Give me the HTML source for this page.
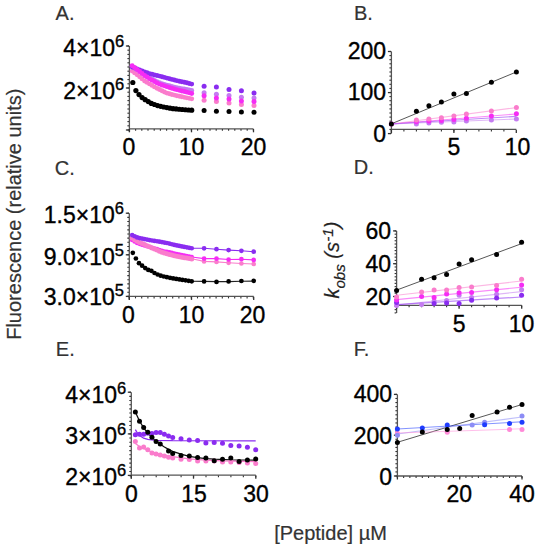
<!DOCTYPE html>
<html><head><meta charset="utf-8"><style>
html,body{margin:0;padding:0;background:#fff;width:540px;height:550px;overflow:hidden}
svg{display:block}
text{font-family:"Liberation Sans",sans-serif}
</style></head><body>
<svg width="540" height="550" viewBox="0 0 540 550">
<rect width="540" height="550" fill="#fff"/>
<text x="55.60" y="20.00" font-size="20" text-anchor="start" fill="#333" stroke="#333" stroke-width="0.2">A.</text>
<text x="354.00" y="20.00" font-size="20" text-anchor="start" fill="#333" stroke="#333" stroke-width="0.2">B.</text>
<text x="54.80" y="174.60" font-size="20" text-anchor="start" fill="#333" stroke="#333" stroke-width="0.2">C.</text>
<text x="353.70" y="174.20" font-size="20" text-anchor="start" fill="#333" stroke="#333" stroke-width="0.2">D.</text>
<text x="55.80" y="356.20" font-size="20" text-anchor="start" fill="#333" stroke="#333" stroke-width="0.2">E.</text>
<text x="353.70" y="356.20" font-size="20" text-anchor="start" fill="#333" stroke="#333" stroke-width="0.2">F.</text>
<text transform="translate(20.5,214.2) rotate(-90)" font-size="20" text-anchor="middle" fill="#333" stroke="#333" stroke-width="0.2">Fluorescence (relative units)</text>
<text x="330.5" y="539.5" font-size="20" text-anchor="middle" fill="#333" stroke="#333" stroke-width="0.2">[Peptide] µM</text>
<line x1="129.40" y1="46.00" x2="129.40" y2="131.70" stroke="#555" stroke-width="1.3"/>
<line x1="127.40" y1="46.00" x2="129.10" y2="46.00" stroke="#333" stroke-width="1.1"/>
<line x1="127.40" y1="50.20" x2="129.10" y2="50.20" stroke="#333" stroke-width="1.1"/>
<line x1="127.40" y1="54.40" x2="129.10" y2="54.40" stroke="#333" stroke-width="1.1"/>
<line x1="127.40" y1="58.60" x2="129.10" y2="58.60" stroke="#333" stroke-width="1.1"/>
<line x1="127.40" y1="62.80" x2="129.10" y2="62.80" stroke="#333" stroke-width="1.1"/>
<line x1="127.40" y1="67.00" x2="129.10" y2="67.00" stroke="#333" stroke-width="1.1"/>
<line x1="127.40" y1="71.20" x2="129.10" y2="71.20" stroke="#333" stroke-width="1.1"/>
<line x1="127.40" y1="75.40" x2="129.10" y2="75.40" stroke="#333" stroke-width="1.1"/>
<line x1="127.40" y1="79.60" x2="129.10" y2="79.60" stroke="#333" stroke-width="1.1"/>
<line x1="127.40" y1="83.80" x2="129.10" y2="83.80" stroke="#333" stroke-width="1.1"/>
<line x1="127.40" y1="88.00" x2="129.10" y2="88.00" stroke="#333" stroke-width="1.1"/>
<line x1="127.40" y1="92.20" x2="129.10" y2="92.20" stroke="#333" stroke-width="1.1"/>
<line x1="127.40" y1="96.40" x2="129.10" y2="96.40" stroke="#333" stroke-width="1.1"/>
<line x1="127.40" y1="100.60" x2="129.10" y2="100.60" stroke="#333" stroke-width="1.1"/>
<line x1="127.40" y1="104.80" x2="129.10" y2="104.80" stroke="#333" stroke-width="1.1"/>
<line x1="127.40" y1="109.00" x2="129.10" y2="109.00" stroke="#333" stroke-width="1.1"/>
<line x1="127.40" y1="113.20" x2="129.10" y2="113.20" stroke="#333" stroke-width="1.1"/>
<line x1="127.40" y1="117.40" x2="129.10" y2="117.40" stroke="#333" stroke-width="1.1"/>
<line x1="127.40" y1="121.60" x2="129.10" y2="121.60" stroke="#333" stroke-width="1.1"/>
<line x1="127.40" y1="125.80" x2="129.10" y2="125.80" stroke="#333" stroke-width="1.1"/>
<line x1="127.40" y1="130.00" x2="129.10" y2="130.00" stroke="#333" stroke-width="1.1"/>
<line x1="125.90" y1="46.00" x2="129.10" y2="46.00" stroke="#333" stroke-width="1.3"/>
<line x1="125.90" y1="88.00" x2="129.10" y2="88.00" stroke="#333" stroke-width="1.3"/>
<line x1="125.90" y1="130.00" x2="129.10" y2="130.00" stroke="#333" stroke-width="1.3"/>
<line x1="129.40" y1="128.80" x2="253.50" y2="128.80" stroke="#555" stroke-width="1.3"/>
<line x1="129.40" y1="129.10" x2="129.40" y2="130.80" stroke="#333" stroke-width="1.1"/>
<line x1="135.60" y1="129.10" x2="135.60" y2="130.80" stroke="#333" stroke-width="1.1"/>
<line x1="141.80" y1="129.10" x2="141.80" y2="130.80" stroke="#333" stroke-width="1.1"/>
<line x1="148.00" y1="129.10" x2="148.00" y2="130.80" stroke="#333" stroke-width="1.1"/>
<line x1="154.20" y1="129.10" x2="154.20" y2="130.80" stroke="#333" stroke-width="1.1"/>
<line x1="160.40" y1="129.10" x2="160.40" y2="130.80" stroke="#333" stroke-width="1.1"/>
<line x1="166.60" y1="129.10" x2="166.60" y2="130.80" stroke="#333" stroke-width="1.1"/>
<line x1="172.80" y1="129.10" x2="172.80" y2="130.80" stroke="#333" stroke-width="1.1"/>
<line x1="179.00" y1="129.10" x2="179.00" y2="130.80" stroke="#333" stroke-width="1.1"/>
<line x1="185.20" y1="129.10" x2="185.20" y2="130.80" stroke="#333" stroke-width="1.1"/>
<line x1="191.40" y1="129.10" x2="191.40" y2="130.80" stroke="#333" stroke-width="1.1"/>
<line x1="197.60" y1="129.10" x2="197.60" y2="130.80" stroke="#333" stroke-width="1.1"/>
<line x1="203.80" y1="129.10" x2="203.80" y2="130.80" stroke="#333" stroke-width="1.1"/>
<line x1="210.00" y1="129.10" x2="210.00" y2="130.80" stroke="#333" stroke-width="1.1"/>
<line x1="216.20" y1="129.10" x2="216.20" y2="130.80" stroke="#333" stroke-width="1.1"/>
<line x1="222.40" y1="129.10" x2="222.40" y2="130.80" stroke="#333" stroke-width="1.1"/>
<line x1="228.60" y1="129.10" x2="228.60" y2="130.80" stroke="#333" stroke-width="1.1"/>
<line x1="234.80" y1="129.10" x2="234.80" y2="130.80" stroke="#333" stroke-width="1.1"/>
<line x1="241.00" y1="129.10" x2="241.00" y2="130.80" stroke="#333" stroke-width="1.1"/>
<line x1="247.20" y1="129.10" x2="247.20" y2="130.80" stroke="#333" stroke-width="1.1"/>
<line x1="253.40" y1="129.10" x2="253.40" y2="130.80" stroke="#333" stroke-width="1.1"/>
<line x1="129.40" y1="129.10" x2="129.40" y2="132.30" stroke="#333" stroke-width="1.3"/>
<line x1="191.50" y1="129.10" x2="191.50" y2="132.30" stroke="#333" stroke-width="1.3"/>
<line x1="253.50" y1="129.10" x2="253.50" y2="132.30" stroke="#333" stroke-width="1.3"/>
<text x="124.30" y="56.10" font-size="23" text-anchor="end" fill="#000" stroke="#000" stroke-width="0.35">4×10<tspan font-size="16.5" dy="-9">6</tspan></text>
<text x="124.30" y="98.60" font-size="23" text-anchor="end" fill="#000" stroke="#000" stroke-width="0.35">2×10<tspan font-size="16.5" dy="-9">6</tspan></text>
<text x="129.00" y="155.10" font-size="23" text-anchor="middle" fill="#000"  stroke="#000" stroke-width="0.35">0</text>
<text x="191.50" y="155.10" font-size="23" text-anchor="middle" fill="#000"  stroke="#000" stroke-width="0.35">10</text>
<text x="253.50" y="155.10" font-size="23" text-anchor="middle" fill="#000"  stroke="#000" stroke-width="0.35">20</text>
<circle cx="132.18" cy="71.04" r="2.45" fill="#fa7ccc"/>
<circle cx="134.66" cy="72.91" r="2.45" fill="#fa7ccc"/>
<circle cx="137.14" cy="74.78" r="2.45" fill="#fa7ccc"/>
<circle cx="139.62" cy="76.82" r="2.45" fill="#fa7ccc"/>
<circle cx="142.10" cy="78.92" r="2.45" fill="#fa7ccc"/>
<circle cx="144.58" cy="80.93" r="2.45" fill="#fa7ccc"/>
<circle cx="147.06" cy="82.42" r="2.45" fill="#fa7ccc"/>
<circle cx="149.54" cy="83.90" r="2.45" fill="#fa7ccc"/>
<circle cx="152.02" cy="85.39" r="2.45" fill="#fa7ccc"/>
<circle cx="154.50" cy="86.88" r="2.45" fill="#fa7ccc"/>
<circle cx="156.98" cy="88.37" r="2.45" fill="#fa7ccc"/>
<circle cx="159.46" cy="89.55" r="2.45" fill="#fa7ccc"/>
<circle cx="161.94" cy="90.76" r="2.45" fill="#fa7ccc"/>
<circle cx="164.42" cy="91.98" r="2.45" fill="#fa7ccc"/>
<circle cx="166.90" cy="93.11" r="2.45" fill="#fa7ccc"/>
<circle cx="169.38" cy="93.80" r="2.45" fill="#fa7ccc"/>
<circle cx="171.86" cy="94.48" r="2.45" fill="#fa7ccc"/>
<circle cx="174.34" cy="95.11" r="2.45" fill="#fa7ccc"/>
<circle cx="176.82" cy="95.70" r="2.45" fill="#fa7ccc"/>
<circle cx="179.30" cy="96.28" r="2.45" fill="#fa7ccc"/>
<circle cx="181.78" cy="96.81" r="2.45" fill="#fa7ccc"/>
<circle cx="184.26" cy="97.35" r="2.45" fill="#fa7ccc"/>
<circle cx="186.74" cy="97.87" r="2.45" fill="#fa7ccc"/>
<circle cx="189.22" cy="98.35" r="2.45" fill="#fa7ccc"/>
<circle cx="191.70" cy="98.84" r="2.45" fill="#fa7ccc"/>
<circle cx="132.18" cy="66.43" r="2.45" fill="#c47cf0"/>
<circle cx="134.66" cy="67.95" r="2.45" fill="#c47cf0"/>
<circle cx="137.14" cy="69.46" r="2.45" fill="#c47cf0"/>
<circle cx="139.62" cy="71.19" r="2.45" fill="#c47cf0"/>
<circle cx="142.10" cy="72.98" r="2.45" fill="#c47cf0"/>
<circle cx="144.58" cy="74.73" r="2.45" fill="#c47cf0"/>
<circle cx="147.06" cy="76.22" r="2.45" fill="#c47cf0"/>
<circle cx="149.54" cy="77.70" r="2.45" fill="#c47cf0"/>
<circle cx="152.02" cy="79.09" r="2.45" fill="#c47cf0"/>
<circle cx="154.50" cy="80.39" r="2.45" fill="#c47cf0"/>
<circle cx="156.98" cy="81.68" r="2.45" fill="#c47cf0"/>
<circle cx="159.46" cy="82.77" r="2.45" fill="#c47cf0"/>
<circle cx="161.94" cy="83.60" r="2.45" fill="#c47cf0"/>
<circle cx="164.42" cy="84.36" r="2.45" fill="#c47cf0"/>
<circle cx="166.90" cy="85.11" r="2.45" fill="#c47cf0"/>
<circle cx="169.38" cy="85.80" r="2.45" fill="#c47cf0"/>
<circle cx="171.86" cy="86.48" r="2.45" fill="#c47cf0"/>
<circle cx="174.34" cy="87.09" r="2.45" fill="#c47cf0"/>
<circle cx="176.82" cy="87.64" r="2.45" fill="#c47cf0"/>
<circle cx="179.30" cy="88.18" r="2.45" fill="#c47cf0"/>
<circle cx="181.78" cy="88.60" r="2.45" fill="#c47cf0"/>
<circle cx="184.26" cy="89.02" r="2.45" fill="#c47cf0"/>
<circle cx="186.74" cy="89.48" r="2.45" fill="#c47cf0"/>
<circle cx="189.22" cy="90.01" r="2.45" fill="#c47cf0"/>
<circle cx="191.70" cy="90.54" r="2.45" fill="#c47cf0"/>
<circle cx="132.18" cy="67.06" r="2.45" fill="#8a2cf0"/>
<circle cx="134.66" cy="68.02" r="2.45" fill="#8a2cf0"/>
<circle cx="137.14" cy="68.98" r="2.45" fill="#8a2cf0"/>
<circle cx="139.62" cy="70.00" r="2.45" fill="#8a2cf0"/>
<circle cx="142.10" cy="71.03" r="2.45" fill="#8a2cf0"/>
<circle cx="144.58" cy="72.02" r="2.45" fill="#8a2cf0"/>
<circle cx="147.06" cy="72.82" r="2.45" fill="#8a2cf0"/>
<circle cx="149.54" cy="73.63" r="2.45" fill="#8a2cf0"/>
<circle cx="152.02" cy="74.32" r="2.45" fill="#8a2cf0"/>
<circle cx="154.50" cy="74.94" r="2.45" fill="#8a2cf0"/>
<circle cx="156.98" cy="75.55" r="2.45" fill="#8a2cf0"/>
<circle cx="159.46" cy="76.08" r="2.45" fill="#8a2cf0"/>
<circle cx="161.94" cy="76.74" r="2.45" fill="#8a2cf0"/>
<circle cx="164.42" cy="77.42" r="2.45" fill="#8a2cf0"/>
<circle cx="166.90" cy="78.10" r="2.45" fill="#8a2cf0"/>
<circle cx="169.38" cy="78.75" r="2.45" fill="#8a2cf0"/>
<circle cx="171.86" cy="79.40" r="2.45" fill="#8a2cf0"/>
<circle cx="174.34" cy="80.03" r="2.45" fill="#8a2cf0"/>
<circle cx="176.82" cy="80.66" r="2.45" fill="#8a2cf0"/>
<circle cx="179.30" cy="81.27" r="2.45" fill="#8a2cf0"/>
<circle cx="181.78" cy="81.78" r="2.45" fill="#8a2cf0"/>
<circle cx="184.26" cy="82.27" r="2.45" fill="#8a2cf0"/>
<circle cx="186.74" cy="82.82" r="2.45" fill="#8a2cf0"/>
<circle cx="189.22" cy="83.47" r="2.45" fill="#8a2cf0"/>
<circle cx="191.70" cy="84.12" r="2.45" fill="#8a2cf0"/>
<circle cx="132.18" cy="65.80" r="2.45" fill="#f52cf5"/>
<circle cx="134.66" cy="67.68" r="2.45" fill="#f52cf5"/>
<circle cx="137.14" cy="69.57" r="2.45" fill="#f52cf5"/>
<circle cx="139.62" cy="71.54" r="2.45" fill="#f52cf5"/>
<circle cx="142.10" cy="73.52" r="2.45" fill="#f52cf5"/>
<circle cx="144.58" cy="75.45" r="2.45" fill="#f52cf5"/>
<circle cx="147.06" cy="77.05" r="2.45" fill="#f52cf5"/>
<circle cx="149.54" cy="78.65" r="2.45" fill="#f52cf5"/>
<circle cx="152.02" cy="80.13" r="2.45" fill="#f52cf5"/>
<circle cx="154.50" cy="81.50" r="2.45" fill="#f52cf5"/>
<circle cx="156.98" cy="82.88" r="2.45" fill="#f52cf5"/>
<circle cx="159.46" cy="84.13" r="2.45" fill="#f52cf5"/>
<circle cx="161.94" cy="85.03" r="2.45" fill="#f52cf5"/>
<circle cx="164.42" cy="85.83" r="2.45" fill="#f52cf5"/>
<circle cx="166.90" cy="86.63" r="2.45" fill="#f52cf5"/>
<circle cx="169.38" cy="87.43" r="2.45" fill="#f52cf5"/>
<circle cx="171.86" cy="88.23" r="2.45" fill="#f52cf5"/>
<circle cx="174.34" cy="88.98" r="2.45" fill="#f52cf5"/>
<circle cx="176.82" cy="89.67" r="2.45" fill="#f52cf5"/>
<circle cx="179.30" cy="90.37" r="2.45" fill="#f52cf5"/>
<circle cx="181.78" cy="90.95" r="2.45" fill="#f52cf5"/>
<circle cx="184.26" cy="91.52" r="2.45" fill="#f52cf5"/>
<circle cx="186.74" cy="92.13" r="2.45" fill="#f52cf5"/>
<circle cx="189.22" cy="92.83" r="2.45" fill="#f52cf5"/>
<circle cx="191.70" cy="93.52" r="2.45" fill="#f52cf5"/>
<circle cx="132.80" cy="82.50" r="2.6" fill="#000"/>
<circle cx="135.90" cy="90.62" r="2.6" fill="#000"/>
<circle cx="139.00" cy="94.54" r="2.6" fill="#000"/>
<circle cx="142.10" cy="97.56" r="2.6" fill="#000"/>
<circle cx="145.20" cy="99.72" r="2.6" fill="#000"/>
<circle cx="148.30" cy="101.62" r="2.6" fill="#000"/>
<circle cx="151.40" cy="103.41" r="2.6" fill="#000"/>
<circle cx="154.50" cy="104.51" r="2.6" fill="#000"/>
<circle cx="157.60" cy="105.53" r="2.6" fill="#000"/>
<circle cx="160.70" cy="106.32" r="2.6" fill="#000"/>
<circle cx="163.80" cy="107.01" r="2.6" fill="#000"/>
<circle cx="166.90" cy="107.62" r="2.6" fill="#000"/>
<circle cx="170.00" cy="108.16" r="2.6" fill="#000"/>
<circle cx="173.10" cy="108.67" r="2.6" fill="#000"/>
<circle cx="176.20" cy="108.96" r="2.6" fill="#000"/>
<circle cx="179.30" cy="109.24" r="2.6" fill="#000"/>
<circle cx="182.40" cy="109.52" r="2.6" fill="#000"/>
<circle cx="185.50" cy="109.77" r="2.6" fill="#000"/>
<circle cx="188.60" cy="109.98" r="2.6" fill="#000"/>
<circle cx="191.70" cy="110.19" r="2.6" fill="#000"/>
<circle cx="204.10" cy="100.30" r="2.5" fill="#fa7ccc"/>
<circle cx="216.40" cy="101.60" r="2.5" fill="#fa7ccc"/>
<circle cx="229.00" cy="102.90" r="2.5" fill="#fa7ccc"/>
<circle cx="241.40" cy="104.60" r="2.5" fill="#fa7ccc"/>
<circle cx="254.00" cy="105.50" r="2.5" fill="#fa7ccc"/>
<circle cx="204.10" cy="92.80" r="2.5" fill="#c47cf0"/>
<circle cx="216.40" cy="94.20" r="2.5" fill="#c47cf0"/>
<circle cx="229.00" cy="95.50" r="2.5" fill="#c47cf0"/>
<circle cx="241.40" cy="97.30" r="2.5" fill="#c47cf0"/>
<circle cx="254.00" cy="98.00" r="2.5" fill="#c47cf0"/>
<circle cx="204.10" cy="95.70" r="2.5" fill="#f52cf5"/>
<circle cx="216.40" cy="98.00" r="2.5" fill="#f52cf5"/>
<circle cx="229.00" cy="99.00" r="2.5" fill="#f52cf5"/>
<circle cx="241.40" cy="101.00" r="2.5" fill="#f52cf5"/>
<circle cx="254.00" cy="101.60" r="2.5" fill="#f52cf5"/>
<circle cx="204.10" cy="86.30" r="2.5" fill="#8a2cf0"/>
<circle cx="216.40" cy="86.90" r="2.5" fill="#8a2cf0"/>
<circle cx="229.00" cy="89.50" r="2.5" fill="#8a2cf0"/>
<circle cx="241.40" cy="90.80" r="2.5" fill="#8a2cf0"/>
<circle cx="254.00" cy="92.90" r="2.5" fill="#8a2cf0"/>
<circle cx="204.10" cy="110.60" r="2.5" fill="#000"/>
<circle cx="216.40" cy="111.30" r="2.5" fill="#000"/>
<circle cx="229.00" cy="111.60" r="2.5" fill="#000"/>
<circle cx="241.40" cy="112.00" r="2.5" fill="#000"/>
<circle cx="254.00" cy="112.20" r="2.5" fill="#000"/>
<line x1="391.40" y1="51.50" x2="391.40" y2="133.60" stroke="#555" stroke-width="1.3"/>
<line x1="389.40" y1="51.50" x2="391.10" y2="51.50" stroke="#333" stroke-width="1.1"/>
<line x1="389.40" y1="55.60" x2="391.10" y2="55.60" stroke="#333" stroke-width="1.1"/>
<line x1="389.40" y1="59.70" x2="391.10" y2="59.70" stroke="#333" stroke-width="1.1"/>
<line x1="389.40" y1="63.80" x2="391.10" y2="63.80" stroke="#333" stroke-width="1.1"/>
<line x1="389.40" y1="67.90" x2="391.10" y2="67.90" stroke="#333" stroke-width="1.1"/>
<line x1="389.40" y1="72.00" x2="391.10" y2="72.00" stroke="#333" stroke-width="1.1"/>
<line x1="389.40" y1="76.10" x2="391.10" y2="76.10" stroke="#333" stroke-width="1.1"/>
<line x1="389.40" y1="80.20" x2="391.10" y2="80.20" stroke="#333" stroke-width="1.1"/>
<line x1="389.40" y1="84.30" x2="391.10" y2="84.30" stroke="#333" stroke-width="1.1"/>
<line x1="389.40" y1="88.40" x2="391.10" y2="88.40" stroke="#333" stroke-width="1.1"/>
<line x1="389.40" y1="92.50" x2="391.10" y2="92.50" stroke="#333" stroke-width="1.1"/>
<line x1="389.40" y1="96.60" x2="391.10" y2="96.60" stroke="#333" stroke-width="1.1"/>
<line x1="389.40" y1="100.70" x2="391.10" y2="100.70" stroke="#333" stroke-width="1.1"/>
<line x1="389.40" y1="104.80" x2="391.10" y2="104.80" stroke="#333" stroke-width="1.1"/>
<line x1="389.40" y1="108.90" x2="391.10" y2="108.90" stroke="#333" stroke-width="1.1"/>
<line x1="389.40" y1="113.00" x2="391.10" y2="113.00" stroke="#333" stroke-width="1.1"/>
<line x1="389.40" y1="117.10" x2="391.10" y2="117.10" stroke="#333" stroke-width="1.1"/>
<line x1="389.40" y1="121.20" x2="391.10" y2="121.20" stroke="#333" stroke-width="1.1"/>
<line x1="389.40" y1="125.30" x2="391.10" y2="125.30" stroke="#333" stroke-width="1.1"/>
<line x1="389.40" y1="129.40" x2="391.10" y2="129.40" stroke="#333" stroke-width="1.1"/>
<line x1="389.40" y1="133.50" x2="391.10" y2="133.50" stroke="#333" stroke-width="1.1"/>
<line x1="387.90" y1="51.50" x2="391.10" y2="51.50" stroke="#333" stroke-width="1.3"/>
<line x1="387.90" y1="92.60" x2="391.10" y2="92.60" stroke="#333" stroke-width="1.3"/>
<line x1="387.90" y1="133.60" x2="391.10" y2="133.60" stroke="#333" stroke-width="1.3"/>
<line x1="391.40" y1="129.40" x2="516.30" y2="129.40" stroke="#555" stroke-width="1.3"/>
<line x1="391.40" y1="129.70" x2="391.40" y2="131.40" stroke="#333" stroke-width="1.1"/>
<line x1="403.90" y1="129.70" x2="403.90" y2="131.40" stroke="#333" stroke-width="1.1"/>
<line x1="416.40" y1="129.70" x2="416.40" y2="131.40" stroke="#333" stroke-width="1.1"/>
<line x1="428.90" y1="129.70" x2="428.90" y2="131.40" stroke="#333" stroke-width="1.1"/>
<line x1="441.40" y1="129.70" x2="441.40" y2="131.40" stroke="#333" stroke-width="1.1"/>
<line x1="453.90" y1="129.70" x2="453.90" y2="131.40" stroke="#333" stroke-width="1.1"/>
<line x1="466.40" y1="129.70" x2="466.40" y2="131.40" stroke="#333" stroke-width="1.1"/>
<line x1="478.90" y1="129.70" x2="478.90" y2="131.40" stroke="#333" stroke-width="1.1"/>
<line x1="491.40" y1="129.70" x2="491.40" y2="131.40" stroke="#333" stroke-width="1.1"/>
<line x1="503.90" y1="129.70" x2="503.90" y2="131.40" stroke="#333" stroke-width="1.1"/>
<line x1="391.40" y1="129.70" x2="391.40" y2="132.90" stroke="#333" stroke-width="1.3"/>
<line x1="453.90" y1="129.70" x2="453.90" y2="132.90" stroke="#333" stroke-width="1.3"/>
<line x1="516.30" y1="129.70" x2="516.30" y2="132.90" stroke="#333" stroke-width="1.3"/>
<text x="386.00" y="58.50" font-size="23" text-anchor="end" fill="#000"  stroke="#000" stroke-width="0.35">200</text>
<text x="386.00" y="100.00" font-size="23" text-anchor="end" fill="#000"  stroke="#000" stroke-width="0.35">100</text>
<text x="386.00" y="141.80" font-size="23" text-anchor="end" fill="#000"  stroke="#000" stroke-width="0.35">0</text>
<text x="453.90" y="155.00" font-size="23" text-anchor="middle" fill="#000"  stroke="#000" stroke-width="0.35">5</text>
<text x="517.50" y="155.00" font-size="23" text-anchor="middle" fill="#000"  stroke="#000" stroke-width="0.35">10</text>
<line x1="391.40" y1="124.00" x2="516.30" y2="107.60" stroke="#fa7ccc" stroke-width="1.1" stroke-opacity="0.55"/>
<line x1="391.40" y1="124.00" x2="516.30" y2="114.00" stroke="#f52cf5" stroke-width="1.1" stroke-opacity="0.55"/>
<line x1="391.40" y1="124.00" x2="516.30" y2="116.40" stroke="#8a2cf0" stroke-width="1.1" stroke-opacity="0.55"/>
<line x1="391.40" y1="124.00" x2="516.30" y2="119.00" stroke="#c47cf0" stroke-width="1.1" stroke-opacity="0.55"/>
<line x1="391.40" y1="123.80" x2="516.30" y2="72.00" stroke="#444" stroke-width="0.9"/>
<circle cx="416.40" cy="123.90" r="2.5" fill="#c47cf0"/>
<circle cx="428.90" cy="123.10" r="2.5" fill="#c47cf0"/>
<circle cx="441.40" cy="122.20" r="2.5" fill="#c47cf0"/>
<circle cx="453.90" cy="122.00" r="2.5" fill="#c47cf0"/>
<circle cx="466.40" cy="121.10" r="2.5" fill="#c47cf0"/>
<circle cx="491.40" cy="120.00" r="2.5" fill="#c47cf0"/>
<circle cx="516.40" cy="118.90" r="2.5" fill="#c47cf0"/>
<circle cx="416.40" cy="121.70" r="2.5" fill="#f52cf5"/>
<circle cx="428.90" cy="121.10" r="2.5" fill="#f52cf5"/>
<circle cx="441.40" cy="120.60" r="2.5" fill="#f52cf5"/>
<circle cx="453.90" cy="119.40" r="2.5" fill="#f52cf5"/>
<circle cx="466.40" cy="118.30" r="2.5" fill="#f52cf5"/>
<circle cx="491.40" cy="116.10" r="2.5" fill="#f52cf5"/>
<circle cx="516.40" cy="113.70" r="2.5" fill="#f52cf5"/>
<circle cx="416.40" cy="120.00" r="2.5" fill="#fa7ccc"/>
<circle cx="428.90" cy="119.10" r="2.5" fill="#fa7ccc"/>
<circle cx="441.40" cy="117.80" r="2.5" fill="#fa7ccc"/>
<circle cx="453.90" cy="116.10" r="2.5" fill="#fa7ccc"/>
<circle cx="466.40" cy="113.90" r="2.5" fill="#fa7ccc"/>
<circle cx="491.40" cy="111.10" r="2.5" fill="#fa7ccc"/>
<circle cx="516.40" cy="107.40" r="2.5" fill="#fa7ccc"/>
<circle cx="391.40" cy="124.00" r="2.5" fill="#f52cf5"/>
<circle cx="391.40" cy="124.10" r="2.5" fill="#000"/>
<circle cx="416.40" cy="111.20" r="2.5" fill="#000"/>
<circle cx="428.90" cy="105.80" r="2.5" fill="#000"/>
<circle cx="441.40" cy="102.00" r="2.5" fill="#000"/>
<circle cx="453.90" cy="94.00" r="2.5" fill="#000"/>
<circle cx="466.40" cy="93.50" r="2.5" fill="#000"/>
<circle cx="491.40" cy="82.20" r="2.5" fill="#000"/>
<circle cx="516.40" cy="72.00" r="2.5" fill="#000"/>
<line x1="129.30" y1="213.20" x2="129.30" y2="299.40" stroke="#555" stroke-width="1.3"/>
<line x1="127.30" y1="213.20" x2="129.00" y2="213.20" stroke="#333" stroke-width="1.1"/>
<line x1="127.30" y1="217.36" x2="129.00" y2="217.36" stroke="#333" stroke-width="1.1"/>
<line x1="127.30" y1="221.52" x2="129.00" y2="221.52" stroke="#333" stroke-width="1.1"/>
<line x1="127.30" y1="225.68" x2="129.00" y2="225.68" stroke="#333" stroke-width="1.1"/>
<line x1="127.30" y1="229.84" x2="129.00" y2="229.84" stroke="#333" stroke-width="1.1"/>
<line x1="127.30" y1="234.00" x2="129.00" y2="234.00" stroke="#333" stroke-width="1.1"/>
<line x1="127.30" y1="238.16" x2="129.00" y2="238.16" stroke="#333" stroke-width="1.1"/>
<line x1="127.30" y1="242.32" x2="129.00" y2="242.32" stroke="#333" stroke-width="1.1"/>
<line x1="127.30" y1="246.48" x2="129.00" y2="246.48" stroke="#333" stroke-width="1.1"/>
<line x1="127.30" y1="250.64" x2="129.00" y2="250.64" stroke="#333" stroke-width="1.1"/>
<line x1="127.30" y1="254.80" x2="129.00" y2="254.80" stroke="#333" stroke-width="1.1"/>
<line x1="127.30" y1="258.96" x2="129.00" y2="258.96" stroke="#333" stroke-width="1.1"/>
<line x1="127.30" y1="263.12" x2="129.00" y2="263.12" stroke="#333" stroke-width="1.1"/>
<line x1="127.30" y1="267.28" x2="129.00" y2="267.28" stroke="#333" stroke-width="1.1"/>
<line x1="127.30" y1="271.44" x2="129.00" y2="271.44" stroke="#333" stroke-width="1.1"/>
<line x1="127.30" y1="275.60" x2="129.00" y2="275.60" stroke="#333" stroke-width="1.1"/>
<line x1="127.30" y1="279.76" x2="129.00" y2="279.76" stroke="#333" stroke-width="1.1"/>
<line x1="127.30" y1="283.92" x2="129.00" y2="283.92" stroke="#333" stroke-width="1.1"/>
<line x1="127.30" y1="288.08" x2="129.00" y2="288.08" stroke="#333" stroke-width="1.1"/>
<line x1="127.30" y1="292.24" x2="129.00" y2="292.24" stroke="#333" stroke-width="1.1"/>
<line x1="127.30" y1="296.40" x2="129.00" y2="296.40" stroke="#333" stroke-width="1.1"/>
<line x1="125.80" y1="213.20" x2="129.00" y2="213.20" stroke="#333" stroke-width="1.3"/>
<line x1="125.80" y1="254.80" x2="129.00" y2="254.80" stroke="#333" stroke-width="1.3"/>
<line x1="125.80" y1="296.40" x2="129.00" y2="296.40" stroke="#333" stroke-width="1.3"/>
<line x1="129.30" y1="296.40" x2="253.70" y2="296.40" stroke="#555" stroke-width="1.3"/>
<line x1="129.30" y1="296.70" x2="129.30" y2="298.40" stroke="#333" stroke-width="1.1"/>
<line x1="135.50" y1="296.70" x2="135.50" y2="298.40" stroke="#333" stroke-width="1.1"/>
<line x1="141.70" y1="296.70" x2="141.70" y2="298.40" stroke="#333" stroke-width="1.1"/>
<line x1="147.90" y1="296.70" x2="147.90" y2="298.40" stroke="#333" stroke-width="1.1"/>
<line x1="154.10" y1="296.70" x2="154.10" y2="298.40" stroke="#333" stroke-width="1.1"/>
<line x1="160.30" y1="296.70" x2="160.30" y2="298.40" stroke="#333" stroke-width="1.1"/>
<line x1="166.50" y1="296.70" x2="166.50" y2="298.40" stroke="#333" stroke-width="1.1"/>
<line x1="172.70" y1="296.70" x2="172.70" y2="298.40" stroke="#333" stroke-width="1.1"/>
<line x1="178.90" y1="296.70" x2="178.90" y2="298.40" stroke="#333" stroke-width="1.1"/>
<line x1="185.10" y1="296.70" x2="185.10" y2="298.40" stroke="#333" stroke-width="1.1"/>
<line x1="191.30" y1="296.70" x2="191.30" y2="298.40" stroke="#333" stroke-width="1.1"/>
<line x1="197.50" y1="296.70" x2="197.50" y2="298.40" stroke="#333" stroke-width="1.1"/>
<line x1="203.70" y1="296.70" x2="203.70" y2="298.40" stroke="#333" stroke-width="1.1"/>
<line x1="209.90" y1="296.70" x2="209.90" y2="298.40" stroke="#333" stroke-width="1.1"/>
<line x1="216.10" y1="296.70" x2="216.10" y2="298.40" stroke="#333" stroke-width="1.1"/>
<line x1="222.30" y1="296.70" x2="222.30" y2="298.40" stroke="#333" stroke-width="1.1"/>
<line x1="228.50" y1="296.70" x2="228.50" y2="298.40" stroke="#333" stroke-width="1.1"/>
<line x1="234.70" y1="296.70" x2="234.70" y2="298.40" stroke="#333" stroke-width="1.1"/>
<line x1="240.90" y1="296.70" x2="240.90" y2="298.40" stroke="#333" stroke-width="1.1"/>
<line x1="247.10" y1="296.70" x2="247.10" y2="298.40" stroke="#333" stroke-width="1.1"/>
<line x1="253.30" y1="296.70" x2="253.30" y2="298.40" stroke="#333" stroke-width="1.1"/>
<line x1="129.30" y1="296.70" x2="129.30" y2="299.90" stroke="#333" stroke-width="1.3"/>
<line x1="191.50" y1="296.70" x2="191.50" y2="299.90" stroke="#333" stroke-width="1.3"/>
<line x1="253.70" y1="296.70" x2="253.70" y2="299.90" stroke="#333" stroke-width="1.3"/>
<text x="124.00" y="222.90" font-size="23" text-anchor="end" fill="#000" stroke="#000" stroke-width="0.35">1.5×10<tspan font-size="16.5" dy="-9">6</tspan></text>
<text x="124.00" y="264.60" font-size="23" text-anchor="end" fill="#000" stroke="#000" stroke-width="0.35">9.0×10<tspan font-size="16.5" dy="-9">5</tspan></text>
<text x="124.00" y="305.20" font-size="23" text-anchor="end" fill="#000" stroke="#000" stroke-width="0.35">3.0×10<tspan font-size="16.5" dy="-9">5</tspan></text>
<text x="128.50" y="322.60" font-size="23" text-anchor="middle" fill="#000"  stroke="#000" stroke-width="0.35">0</text>
<text x="191.50" y="322.60" font-size="23" text-anchor="middle" fill="#000"  stroke="#000" stroke-width="0.35">10</text>
<text x="252.50" y="322.60" font-size="23" text-anchor="middle" fill="#000"  stroke="#000" stroke-width="0.35">20</text>
<polyline points="191.70,248.30 204.10,248.30 216.50,249.20 228.60,250.10 241.40,250.80 253.70,251.70" fill="none" stroke="#8a2cf0" stroke-width="1.1"/>
<polyline points="191.70,257.00 204.10,258.60 216.50,258.60 228.60,259.50 241.40,259.20 253.70,259.90" fill="none" stroke="#f52cf5" stroke-width="1.1"/>
<polyline points="191.70,258.80 204.10,261.40 216.50,261.90 228.60,262.80 241.40,263.50 253.70,264.00" fill="none" stroke="#fa7ccc" stroke-width="1.1"/>
<polyline points="191.70,281.30 204.10,281.40 216.50,281.60 228.60,281.60 241.40,281.30 253.70,281.10" fill="none" stroke="#222" stroke-width="1.1"/>
<circle cx="132.18" cy="240.06" r="2.3" fill="#f52cf5"/>
<circle cx="134.66" cy="241.47" r="2.3" fill="#f52cf5"/>
<circle cx="137.14" cy="242.88" r="2.3" fill="#f52cf5"/>
<circle cx="139.62" cy="243.85" r="2.3" fill="#f52cf5"/>
<circle cx="142.10" cy="244.69" r="2.3" fill="#f52cf5"/>
<circle cx="144.58" cy="245.52" r="2.3" fill="#f52cf5"/>
<circle cx="147.06" cy="246.28" r="2.3" fill="#f52cf5"/>
<circle cx="149.54" cy="247.04" r="2.3" fill="#f52cf5"/>
<circle cx="152.02" cy="247.77" r="2.3" fill="#f52cf5"/>
<circle cx="154.50" cy="248.45" r="2.3" fill="#f52cf5"/>
<circle cx="156.98" cy="249.14" r="2.3" fill="#f52cf5"/>
<circle cx="159.46" cy="249.98" r="2.3" fill="#f52cf5"/>
<circle cx="161.94" cy="250.83" r="2.3" fill="#f52cf5"/>
<circle cx="164.42" cy="251.43" r="2.3" fill="#f52cf5"/>
<circle cx="166.90" cy="251.82" r="2.3" fill="#f52cf5"/>
<circle cx="169.38" cy="252.35" r="2.3" fill="#f52cf5"/>
<circle cx="171.86" cy="252.92" r="2.3" fill="#f52cf5"/>
<circle cx="174.34" cy="253.49" r="2.3" fill="#f52cf5"/>
<circle cx="176.82" cy="254.04" r="2.3" fill="#f52cf5"/>
<circle cx="179.30" cy="254.57" r="2.3" fill="#f52cf5"/>
<circle cx="181.78" cy="255.11" r="2.3" fill="#f52cf5"/>
<circle cx="184.26" cy="255.58" r="2.3" fill="#f52cf5"/>
<circle cx="186.74" cy="256.04" r="2.3" fill="#f52cf5"/>
<circle cx="189.22" cy="256.50" r="2.3" fill="#f52cf5"/>
<circle cx="191.70" cy="256.96" r="2.3" fill="#f52cf5"/>
<circle cx="132.18" cy="238.08" r="2.5" fill="#fa7ccc"/>
<circle cx="134.66" cy="239.66" r="2.5" fill="#fa7ccc"/>
<circle cx="137.14" cy="241.24" r="2.5" fill="#fa7ccc"/>
<circle cx="139.62" cy="242.43" r="2.5" fill="#fa7ccc"/>
<circle cx="142.10" cy="243.50" r="2.5" fill="#fa7ccc"/>
<circle cx="144.58" cy="244.57" r="2.5" fill="#fa7ccc"/>
<circle cx="147.06" cy="245.68" r="2.5" fill="#fa7ccc"/>
<circle cx="149.54" cy="246.78" r="2.5" fill="#fa7ccc"/>
<circle cx="152.02" cy="247.89" r="2.5" fill="#fa7ccc"/>
<circle cx="154.50" cy="249.00" r="2.5" fill="#fa7ccc"/>
<circle cx="156.98" cy="250.10" r="2.5" fill="#fa7ccc"/>
<circle cx="159.46" cy="251.14" r="2.5" fill="#fa7ccc"/>
<circle cx="161.94" cy="252.16" r="2.5" fill="#fa7ccc"/>
<circle cx="164.42" cy="253.02" r="2.5" fill="#fa7ccc"/>
<circle cx="166.90" cy="253.75" r="2.5" fill="#fa7ccc"/>
<circle cx="169.38" cy="254.41" r="2.5" fill="#fa7ccc"/>
<circle cx="171.86" cy="255.05" r="2.5" fill="#fa7ccc"/>
<circle cx="174.34" cy="255.68" r="2.5" fill="#fa7ccc"/>
<circle cx="176.82" cy="256.21" r="2.5" fill="#fa7ccc"/>
<circle cx="179.30" cy="256.71" r="2.5" fill="#fa7ccc"/>
<circle cx="181.78" cy="257.21" r="2.5" fill="#fa7ccc"/>
<circle cx="184.26" cy="257.66" r="2.5" fill="#fa7ccc"/>
<circle cx="186.74" cy="258.10" r="2.5" fill="#fa7ccc"/>
<circle cx="189.22" cy="258.53" r="2.5" fill="#fa7ccc"/>
<circle cx="191.70" cy="258.96" r="2.5" fill="#fa7ccc"/>
<circle cx="132.18" cy="235.10" r="2.35" fill="#8a2cf0"/>
<circle cx="134.66" cy="236.26" r="2.35" fill="#8a2cf0"/>
<circle cx="137.14" cy="237.44" r="2.35" fill="#8a2cf0"/>
<circle cx="139.62" cy="238.08" r="2.35" fill="#8a2cf0"/>
<circle cx="142.10" cy="238.58" r="2.35" fill="#8a2cf0"/>
<circle cx="144.58" cy="239.08" r="2.35" fill="#8a2cf0"/>
<circle cx="147.06" cy="239.57" r="2.35" fill="#8a2cf0"/>
<circle cx="149.54" cy="240.07" r="2.35" fill="#8a2cf0"/>
<circle cx="152.02" cy="240.50" r="2.35" fill="#8a2cf0"/>
<circle cx="154.50" cy="240.88" r="2.35" fill="#8a2cf0"/>
<circle cx="156.98" cy="241.27" r="2.35" fill="#8a2cf0"/>
<circle cx="159.46" cy="241.69" r="2.35" fill="#8a2cf0"/>
<circle cx="161.94" cy="242.12" r="2.35" fill="#8a2cf0"/>
<circle cx="164.42" cy="242.56" r="2.35" fill="#8a2cf0"/>
<circle cx="166.90" cy="243.01" r="2.35" fill="#8a2cf0"/>
<circle cx="169.38" cy="243.61" r="2.35" fill="#8a2cf0"/>
<circle cx="171.86" cy="244.25" r="2.35" fill="#8a2cf0"/>
<circle cx="174.34" cy="244.88" r="2.35" fill="#8a2cf0"/>
<circle cx="176.82" cy="245.41" r="2.35" fill="#8a2cf0"/>
<circle cx="179.30" cy="245.91" r="2.35" fill="#8a2cf0"/>
<circle cx="181.78" cy="246.41" r="2.35" fill="#8a2cf0"/>
<circle cx="184.26" cy="246.88" r="2.35" fill="#8a2cf0"/>
<circle cx="186.74" cy="247.34" r="2.35" fill="#8a2cf0"/>
<circle cx="189.22" cy="247.80" r="2.35" fill="#8a2cf0"/>
<circle cx="191.70" cy="248.26" r="2.35" fill="#8a2cf0"/>
<circle cx="132.80" cy="252.81" r="2.35" fill="#000"/>
<circle cx="135.90" cy="258.48" r="2.35" fill="#000"/>
<circle cx="139.00" cy="263.13" r="2.35" fill="#000"/>
<circle cx="142.10" cy="265.72" r="2.35" fill="#000"/>
<circle cx="145.20" cy="268.11" r="2.35" fill="#000"/>
<circle cx="148.30" cy="269.89" r="2.35" fill="#000"/>
<circle cx="151.40" cy="270.87" r="2.35" fill="#000"/>
<circle cx="154.50" cy="273.01" r="2.35" fill="#000"/>
<circle cx="157.60" cy="274.50" r="2.35" fill="#000"/>
<circle cx="160.70" cy="275.69" r="2.35" fill="#000"/>
<circle cx="163.80" cy="276.48" r="2.35" fill="#000"/>
<circle cx="166.90" cy="277.14" r="2.35" fill="#000"/>
<circle cx="170.00" cy="277.85" r="2.35" fill="#000"/>
<circle cx="173.10" cy="278.43" r="2.35" fill="#000"/>
<circle cx="176.20" cy="278.94" r="2.35" fill="#000"/>
<circle cx="179.30" cy="279.42" r="2.35" fill="#000"/>
<circle cx="182.40" cy="279.88" r="2.35" fill="#000"/>
<circle cx="185.50" cy="280.36" r="2.35" fill="#000"/>
<circle cx="188.60" cy="280.84" r="2.35" fill="#000"/>
<circle cx="191.70" cy="281.30" r="2.35" fill="#000"/>
<circle cx="204.10" cy="261.40" r="2.35" fill="#fa7ccc"/>
<circle cx="216.50" cy="261.90" r="2.35" fill="#fa7ccc"/>
<circle cx="228.60" cy="262.80" r="2.35" fill="#fa7ccc"/>
<circle cx="241.40" cy="263.50" r="2.35" fill="#fa7ccc"/>
<circle cx="253.70" cy="264.00" r="2.35" fill="#fa7ccc"/>
<circle cx="204.10" cy="258.60" r="2.35" fill="#f52cf5"/>
<circle cx="216.50" cy="258.60" r="2.35" fill="#f52cf5"/>
<circle cx="228.60" cy="259.50" r="2.35" fill="#f52cf5"/>
<circle cx="241.40" cy="259.20" r="2.35" fill="#f52cf5"/>
<circle cx="253.70" cy="259.90" r="2.35" fill="#f52cf5"/>
<circle cx="204.10" cy="248.30" r="2.35" fill="#8a2cf0"/>
<circle cx="216.50" cy="249.20" r="2.35" fill="#8a2cf0"/>
<circle cx="228.60" cy="250.10" r="2.35" fill="#8a2cf0"/>
<circle cx="241.40" cy="250.80" r="2.35" fill="#8a2cf0"/>
<circle cx="253.70" cy="251.70" r="2.35" fill="#8a2cf0"/>
<circle cx="204.10" cy="281.40" r="2.35" fill="#000"/>
<circle cx="216.50" cy="281.90" r="2.35" fill="#000"/>
<circle cx="228.60" cy="281.40" r="2.35" fill="#000"/>
<circle cx="241.40" cy="281.00" r="2.35" fill="#000"/>
<circle cx="253.70" cy="280.80" r="2.35" fill="#000"/>
<text transform="translate(338.8,298.5) rotate(-90)" font-size="20" font-style="italic" fill="#222" stroke="#222" stroke-width="0.2"><tspan>k</tspan><tspan font-size="15" dy="6.5">obs</tspan><tspan dy="-6.5"> (s</tspan><tspan font-size="15" dy="-6" dx="0.3">-1</tspan><tspan dy="6" dx="0.3">)</tspan></text>
<line x1="396.60" y1="230.90" x2="396.60" y2="313.00" stroke="#555" stroke-width="1.3"/>
<line x1="394.60" y1="230.90" x2="396.30" y2="230.90" stroke="#333" stroke-width="1.1"/>
<line x1="394.60" y1="234.18" x2="396.30" y2="234.18" stroke="#333" stroke-width="1.1"/>
<line x1="394.60" y1="237.46" x2="396.30" y2="237.46" stroke="#333" stroke-width="1.1"/>
<line x1="394.60" y1="240.74" x2="396.30" y2="240.74" stroke="#333" stroke-width="1.1"/>
<line x1="394.60" y1="244.02" x2="396.30" y2="244.02" stroke="#333" stroke-width="1.1"/>
<line x1="394.60" y1="247.30" x2="396.30" y2="247.30" stroke="#333" stroke-width="1.1"/>
<line x1="394.60" y1="250.58" x2="396.30" y2="250.58" stroke="#333" stroke-width="1.1"/>
<line x1="394.60" y1="253.86" x2="396.30" y2="253.86" stroke="#333" stroke-width="1.1"/>
<line x1="394.60" y1="257.14" x2="396.30" y2="257.14" stroke="#333" stroke-width="1.1"/>
<line x1="394.60" y1="260.42" x2="396.30" y2="260.42" stroke="#333" stroke-width="1.1"/>
<line x1="394.60" y1="263.70" x2="396.30" y2="263.70" stroke="#333" stroke-width="1.1"/>
<line x1="394.60" y1="266.98" x2="396.30" y2="266.98" stroke="#333" stroke-width="1.1"/>
<line x1="394.60" y1="270.26" x2="396.30" y2="270.26" stroke="#333" stroke-width="1.1"/>
<line x1="394.60" y1="273.54" x2="396.30" y2="273.54" stroke="#333" stroke-width="1.1"/>
<line x1="394.60" y1="276.82" x2="396.30" y2="276.82" stroke="#333" stroke-width="1.1"/>
<line x1="394.60" y1="280.10" x2="396.30" y2="280.10" stroke="#333" stroke-width="1.1"/>
<line x1="394.60" y1="283.38" x2="396.30" y2="283.38" stroke="#333" stroke-width="1.1"/>
<line x1="394.60" y1="286.66" x2="396.30" y2="286.66" stroke="#333" stroke-width="1.1"/>
<line x1="394.60" y1="289.94" x2="396.30" y2="289.94" stroke="#333" stroke-width="1.1"/>
<line x1="394.60" y1="293.22" x2="396.30" y2="293.22" stroke="#333" stroke-width="1.1"/>
<line x1="394.60" y1="296.50" x2="396.30" y2="296.50" stroke="#333" stroke-width="1.1"/>
<line x1="394.60" y1="299.78" x2="396.30" y2="299.78" stroke="#333" stroke-width="1.1"/>
<line x1="394.60" y1="303.06" x2="396.30" y2="303.06" stroke="#333" stroke-width="1.1"/>
<line x1="394.60" y1="306.34" x2="396.30" y2="306.34" stroke="#333" stroke-width="1.1"/>
<line x1="394.60" y1="309.62" x2="396.30" y2="309.62" stroke="#333" stroke-width="1.1"/>
<line x1="394.60" y1="312.90" x2="396.30" y2="312.90" stroke="#333" stroke-width="1.1"/>
<line x1="393.10" y1="230.90" x2="396.30" y2="230.90" stroke="#333" stroke-width="1.3"/>
<line x1="393.10" y1="263.70" x2="396.30" y2="263.70" stroke="#333" stroke-width="1.3"/>
<line x1="393.10" y1="296.50" x2="396.30" y2="296.50" stroke="#333" stroke-width="1.3"/>
<line x1="396.60" y1="305.30" x2="521.70" y2="305.30" stroke="#555" stroke-width="1.3"/>
<line x1="396.60" y1="305.60" x2="396.60" y2="307.30" stroke="#333" stroke-width="1.1"/>
<line x1="409.10" y1="305.60" x2="409.10" y2="307.30" stroke="#333" stroke-width="1.1"/>
<line x1="421.60" y1="305.60" x2="421.60" y2="307.30" stroke="#333" stroke-width="1.1"/>
<line x1="434.10" y1="305.60" x2="434.10" y2="307.30" stroke="#333" stroke-width="1.1"/>
<line x1="446.60" y1="305.60" x2="446.60" y2="307.30" stroke="#333" stroke-width="1.1"/>
<line x1="459.10" y1="305.60" x2="459.10" y2="307.30" stroke="#333" stroke-width="1.1"/>
<line x1="471.60" y1="305.60" x2="471.60" y2="307.30" stroke="#333" stroke-width="1.1"/>
<line x1="484.10" y1="305.60" x2="484.10" y2="307.30" stroke="#333" stroke-width="1.1"/>
<line x1="496.60" y1="305.60" x2="496.60" y2="307.30" stroke="#333" stroke-width="1.1"/>
<line x1="509.10" y1="305.60" x2="509.10" y2="307.30" stroke="#333" stroke-width="1.1"/>
<line x1="521.60" y1="305.60" x2="521.60" y2="307.30" stroke="#333" stroke-width="1.1"/>
<line x1="396.60" y1="305.60" x2="396.60" y2="308.80" stroke="#333" stroke-width="1.3"/>
<line x1="459.10" y1="305.60" x2="459.10" y2="308.80" stroke="#333" stroke-width="1.3"/>
<line x1="521.70" y1="305.60" x2="521.70" y2="308.80" stroke="#333" stroke-width="1.3"/>
<text x="391.00" y="238.60" font-size="23" text-anchor="end" fill="#000"  stroke="#000" stroke-width="0.35">60</text>
<text x="391.00" y="271.70" font-size="23" text-anchor="end" fill="#000"  stroke="#000" stroke-width="0.35">40</text>
<text x="391.00" y="305.00" font-size="23" text-anchor="end" fill="#000"  stroke="#000" stroke-width="0.35">20</text>
<text x="459.10" y="331.80" font-size="23" text-anchor="middle" fill="#000"  stroke="#000" stroke-width="0.35">5</text>
<text x="521.50" y="331.80" font-size="23" text-anchor="middle" fill="#000"  stroke="#000" stroke-width="0.35">10</text>
<line x1="396.60" y1="290.10" x2="521.70" y2="243.60" stroke="#444" stroke-width="0.9"/>
<line x1="396.60" y1="295.30" x2="521.70" y2="281.00" stroke="#fa7ccc" stroke-width="1.1" stroke-opacity="0.55"/>
<line x1="396.60" y1="299.60" x2="521.70" y2="287.20" stroke="#f52cf5" stroke-width="1.1" stroke-opacity="0.55"/>
<line x1="396.60" y1="305.00" x2="521.70" y2="291.60" stroke="#c47cf0" stroke-width="1.1" stroke-opacity="0.55"/>
<line x1="396.60" y1="304.70" x2="521.70" y2="297.00" stroke="#8a2cf0" stroke-width="1.2" stroke-opacity="0.55"/>
<circle cx="396.60" cy="305.60" r="2.5" fill="#c47cf0"/>
<circle cx="421.60" cy="304.40" r="2.5" fill="#c47cf0"/>
<circle cx="434.10" cy="301.10" r="2.5" fill="#c47cf0"/>
<circle cx="446.60" cy="300.50" r="2.5" fill="#c47cf0"/>
<circle cx="459.10" cy="295.30" r="2.5" fill="#c47cf0"/>
<circle cx="471.60" cy="297.40" r="2.5" fill="#c47cf0"/>
<circle cx="496.60" cy="294.20" r="2.5" fill="#c47cf0"/>
<circle cx="521.60" cy="289.80" r="2.5" fill="#c47cf0"/>
<circle cx="396.60" cy="302.40" r="2.5" fill="#8a2cf0"/>
<circle cx="434.10" cy="303.40" r="2.5" fill="#8a2cf0"/>
<circle cx="446.60" cy="303.10" r="2.5" fill="#8a2cf0"/>
<circle cx="459.10" cy="303.40" r="2.5" fill="#8a2cf0"/>
<circle cx="471.60" cy="300.30" r="2.5" fill="#8a2cf0"/>
<circle cx="496.60" cy="298.10" r="2.5" fill="#8a2cf0"/>
<circle cx="521.60" cy="295.20" r="2.5" fill="#8a2cf0"/>
<circle cx="396.60" cy="300.00" r="2.5" fill="#f52cf5"/>
<circle cx="421.60" cy="296.60" r="2.5" fill="#f52cf5"/>
<circle cx="434.10" cy="297.50" r="2.5" fill="#f52cf5"/>
<circle cx="446.60" cy="294.00" r="2.5" fill="#f52cf5"/>
<circle cx="459.10" cy="292.70" r="2.5" fill="#f52cf5"/>
<circle cx="471.60" cy="292.40" r="2.5" fill="#f52cf5"/>
<circle cx="496.60" cy="289.80" r="2.5" fill="#f52cf5"/>
<circle cx="521.60" cy="285.00" r="2.5" fill="#f52cf5"/>
<circle cx="396.60" cy="297.00" r="2.5" fill="#fa7ccc"/>
<circle cx="421.60" cy="292.00" r="2.5" fill="#fa7ccc"/>
<circle cx="434.10" cy="290.10" r="2.5" fill="#fa7ccc"/>
<circle cx="446.60" cy="290.10" r="2.5" fill="#fa7ccc"/>
<circle cx="459.10" cy="287.50" r="2.5" fill="#fa7ccc"/>
<circle cx="471.60" cy="287.00" r="2.5" fill="#fa7ccc"/>
<circle cx="496.60" cy="285.40" r="2.5" fill="#fa7ccc"/>
<circle cx="521.60" cy="279.30" r="2.5" fill="#fa7ccc"/>
<circle cx="396.60" cy="290.50" r="2.5" fill="#000"/>
<circle cx="421.60" cy="279.30" r="2.5" fill="#000"/>
<circle cx="434.10" cy="277.80" r="2.5" fill="#000"/>
<circle cx="446.60" cy="274.50" r="2.5" fill="#000"/>
<circle cx="459.10" cy="264.00" r="2.5" fill="#000"/>
<circle cx="471.60" cy="259.70" r="2.5" fill="#000"/>
<circle cx="496.60" cy="254.50" r="2.5" fill="#000"/>
<circle cx="521.60" cy="242.20" r="2.5" fill="#000"/>
<line x1="131.30" y1="392.20" x2="131.30" y2="478.60" stroke="#555" stroke-width="1.3"/>
<line x1="129.30" y1="392.20" x2="131.00" y2="392.20" stroke="#333" stroke-width="1.1"/>
<line x1="129.30" y1="396.37" x2="131.00" y2="396.37" stroke="#333" stroke-width="1.1"/>
<line x1="129.30" y1="400.54" x2="131.00" y2="400.54" stroke="#333" stroke-width="1.1"/>
<line x1="129.30" y1="404.71" x2="131.00" y2="404.71" stroke="#333" stroke-width="1.1"/>
<line x1="129.30" y1="408.88" x2="131.00" y2="408.88" stroke="#333" stroke-width="1.1"/>
<line x1="129.30" y1="413.05" x2="131.00" y2="413.05" stroke="#333" stroke-width="1.1"/>
<line x1="129.30" y1="417.22" x2="131.00" y2="417.22" stroke="#333" stroke-width="1.1"/>
<line x1="129.30" y1="421.39" x2="131.00" y2="421.39" stroke="#333" stroke-width="1.1"/>
<line x1="129.30" y1="425.56" x2="131.00" y2="425.56" stroke="#333" stroke-width="1.1"/>
<line x1="129.30" y1="429.73" x2="131.00" y2="429.73" stroke="#333" stroke-width="1.1"/>
<line x1="129.30" y1="433.90" x2="131.00" y2="433.90" stroke="#333" stroke-width="1.1"/>
<line x1="129.30" y1="438.07" x2="131.00" y2="438.07" stroke="#333" stroke-width="1.1"/>
<line x1="129.30" y1="442.24" x2="131.00" y2="442.24" stroke="#333" stroke-width="1.1"/>
<line x1="129.30" y1="446.41" x2="131.00" y2="446.41" stroke="#333" stroke-width="1.1"/>
<line x1="129.30" y1="450.58" x2="131.00" y2="450.58" stroke="#333" stroke-width="1.1"/>
<line x1="129.30" y1="454.75" x2="131.00" y2="454.75" stroke="#333" stroke-width="1.1"/>
<line x1="129.30" y1="458.92" x2="131.00" y2="458.92" stroke="#333" stroke-width="1.1"/>
<line x1="129.30" y1="463.09" x2="131.00" y2="463.09" stroke="#333" stroke-width="1.1"/>
<line x1="129.30" y1="467.26" x2="131.00" y2="467.26" stroke="#333" stroke-width="1.1"/>
<line x1="129.30" y1="471.43" x2="131.00" y2="471.43" stroke="#333" stroke-width="1.1"/>
<line x1="129.30" y1="475.60" x2="131.00" y2="475.60" stroke="#333" stroke-width="1.1"/>
<line x1="127.80" y1="392.20" x2="131.00" y2="392.20" stroke="#333" stroke-width="1.3"/>
<line x1="127.80" y1="433.90" x2="131.00" y2="433.90" stroke="#333" stroke-width="1.3"/>
<line x1="127.80" y1="475.40" x2="131.00" y2="475.40" stroke="#333" stroke-width="1.3"/>
<line x1="131.30" y1="475.20" x2="255.80" y2="475.20" stroke="#555" stroke-width="1.3"/>
<line x1="131.30" y1="475.50" x2="131.30" y2="477.20" stroke="#333" stroke-width="1.1"/>
<line x1="143.75" y1="475.50" x2="143.75" y2="477.20" stroke="#333" stroke-width="1.1"/>
<line x1="156.20" y1="475.50" x2="156.20" y2="477.20" stroke="#333" stroke-width="1.1"/>
<line x1="168.65" y1="475.50" x2="168.65" y2="477.20" stroke="#333" stroke-width="1.1"/>
<line x1="181.10" y1="475.50" x2="181.10" y2="477.20" stroke="#333" stroke-width="1.1"/>
<line x1="193.55" y1="475.50" x2="193.55" y2="477.20" stroke="#333" stroke-width="1.1"/>
<line x1="206.00" y1="475.50" x2="206.00" y2="477.20" stroke="#333" stroke-width="1.1"/>
<line x1="218.45" y1="475.50" x2="218.45" y2="477.20" stroke="#333" stroke-width="1.1"/>
<line x1="230.90" y1="475.50" x2="230.90" y2="477.20" stroke="#333" stroke-width="1.1"/>
<line x1="243.35" y1="475.50" x2="243.35" y2="477.20" stroke="#333" stroke-width="1.1"/>
<line x1="255.80" y1="475.50" x2="255.80" y2="477.20" stroke="#333" stroke-width="1.1"/>
<line x1="131.30" y1="475.50" x2="131.30" y2="478.70" stroke="#333" stroke-width="1.3"/>
<line x1="193.50" y1="475.50" x2="193.50" y2="478.70" stroke="#333" stroke-width="1.3"/>
<line x1="255.80" y1="475.50" x2="255.80" y2="478.70" stroke="#333" stroke-width="1.3"/>
<text x="126.20" y="402.90" font-size="23" text-anchor="end" fill="#000" stroke="#000" stroke-width="0.35">4×10<tspan font-size="16.5" dy="-9">6</tspan></text>
<text x="126.20" y="444.10" font-size="23" text-anchor="end" fill="#000" stroke="#000" stroke-width="0.35">3×10<tspan font-size="16.5" dy="-9">6</tspan></text>
<text x="126.20" y="485.10" font-size="23" text-anchor="end" fill="#000" stroke="#000" stroke-width="0.35">2×10<tspan font-size="16.5" dy="-9">6</tspan></text>
<text x="131.50" y="501.50" font-size="23" text-anchor="middle" fill="#000"  stroke="#000" stroke-width="0.35">0</text>
<text x="194.00" y="501.50" font-size="23" text-anchor="middle" fill="#000"  stroke="#000" stroke-width="0.35">15</text>
<text x="256.00" y="501.50" font-size="23" text-anchor="middle" fill="#000"  stroke="#000" stroke-width="0.35">30</text>
<polyline points="135.35,412.10 139.50,421.00 143.65,427.90 147.80,433.20 151.95,437.60 156.10,441.20 160.25,444.30 164.40,447.00 168.55,449.40 172.70,451.30 181.00,454.20 189.30,456.30 197.60,457.70 205.90,458.60 214.20,459.20 230.80,459.90 255.70,460.20" fill="none" stroke="#111" stroke-width="1.3"/>
<polyline points="135.35,429.60 137.42,433.00 139.50,435.50 143.65,438.20 147.80,439.40 156.10,440.30 172.70,440.70 255.70,440.80" fill="none" stroke="#8a2cf0" stroke-width="1.3"/>
<polyline points="135.35,443.50 139.50,446.50 147.80,450.50 156.10,453.20 164.40,455.20 172.70,456.70 189.30,458.80 205.90,460.10 222.50,460.90 255.70,461.60" fill="none" stroke="#fa7ccc" stroke-width="1.3"/>
<circle cx="135.35" cy="434.70" r="2.5" fill="#8a2cf0"/>
<circle cx="139.50" cy="434.30" r="2.5" fill="#8a2cf0"/>
<circle cx="143.65" cy="434.30" r="2.5" fill="#8a2cf0"/>
<circle cx="147.80" cy="433.20" r="2.5" fill="#8a2cf0"/>
<circle cx="151.95" cy="433.60" r="2.5" fill="#8a2cf0"/>
<circle cx="156.10" cy="432.50" r="2.5" fill="#8a2cf0"/>
<circle cx="160.25" cy="432.50" r="2.5" fill="#8a2cf0"/>
<circle cx="164.40" cy="434.30" r="2.5" fill="#8a2cf0"/>
<circle cx="168.55" cy="436.10" r="2.5" fill="#8a2cf0"/>
<circle cx="172.70" cy="437.50" r="2.5" fill="#8a2cf0"/>
<circle cx="181.00" cy="438.80" r="2.5" fill="#8a2cf0"/>
<circle cx="189.30" cy="440.00" r="2.5" fill="#8a2cf0"/>
<circle cx="197.60" cy="440.40" r="2.5" fill="#8a2cf0"/>
<circle cx="205.90" cy="442.90" r="2.5" fill="#8a2cf0"/>
<circle cx="214.20" cy="442.60" r="2.5" fill="#8a2cf0"/>
<circle cx="222.50" cy="443.30" r="2.5" fill="#8a2cf0"/>
<circle cx="230.80" cy="445.60" r="2.5" fill="#8a2cf0"/>
<circle cx="239.10" cy="445.90" r="2.5" fill="#8a2cf0"/>
<circle cx="247.40" cy="447.30" r="2.5" fill="#8a2cf0"/>
<circle cx="255.70" cy="449.70" r="2.5" fill="#8a2cf0"/>
<circle cx="135.35" cy="441.60" r="2.5" fill="#fa7ccc"/>
<circle cx="139.50" cy="448.10" r="2.5" fill="#fa7ccc"/>
<circle cx="143.65" cy="447.00" r="2.5" fill="#fa7ccc"/>
<circle cx="147.80" cy="449.80" r="2.5" fill="#fa7ccc"/>
<circle cx="151.95" cy="453.00" r="2.5" fill="#fa7ccc"/>
<circle cx="156.10" cy="454.10" r="2.5" fill="#fa7ccc"/>
<circle cx="160.25" cy="455.00" r="2.5" fill="#fa7ccc"/>
<circle cx="164.40" cy="456.10" r="2.5" fill="#fa7ccc"/>
<circle cx="168.55" cy="457.20" r="2.5" fill="#fa7ccc"/>
<circle cx="172.70" cy="458.00" r="2.5" fill="#fa7ccc"/>
<circle cx="181.00" cy="459.30" r="2.5" fill="#fa7ccc"/>
<circle cx="189.30" cy="459.60" r="2.5" fill="#fa7ccc"/>
<circle cx="197.60" cy="461.10" r="2.5" fill="#fa7ccc"/>
<circle cx="205.90" cy="461.10" r="2.5" fill="#fa7ccc"/>
<circle cx="214.20" cy="461.10" r="2.5" fill="#fa7ccc"/>
<circle cx="222.50" cy="462.10" r="2.5" fill="#fa7ccc"/>
<circle cx="230.80" cy="462.10" r="2.5" fill="#fa7ccc"/>
<circle cx="239.10" cy="462.60" r="2.5" fill="#fa7ccc"/>
<circle cx="247.40" cy="463.00" r="2.5" fill="#fa7ccc"/>
<circle cx="255.70" cy="463.60" r="2.5" fill="#fa7ccc"/>
<circle cx="135.35" cy="412.10" r="2.5" fill="#000"/>
<circle cx="139.50" cy="421.20" r="2.5" fill="#000"/>
<circle cx="143.65" cy="427.40" r="2.5" fill="#000"/>
<circle cx="147.80" cy="432.30" r="2.5" fill="#000"/>
<circle cx="151.95" cy="437.20" r="2.5" fill="#000"/>
<circle cx="156.10" cy="441.60" r="2.5" fill="#000"/>
<circle cx="160.25" cy="444.10" r="2.5" fill="#000"/>
<circle cx="168.55" cy="450.90" r="2.5" fill="#000"/>
<circle cx="172.70" cy="453.60" r="2.5" fill="#000"/>
<circle cx="181.00" cy="455.60" r="2.5" fill="#000"/>
<circle cx="189.30" cy="456.00" r="2.5" fill="#000"/>
<circle cx="197.60" cy="457.40" r="2.5" fill="#000"/>
<circle cx="205.90" cy="458.10" r="2.5" fill="#000"/>
<circle cx="214.20" cy="460.70" r="2.5" fill="#000"/>
<circle cx="222.50" cy="459.20" r="2.5" fill="#000"/>
<circle cx="230.80" cy="458.10" r="2.5" fill="#000"/>
<circle cx="239.10" cy="461.60" r="2.5" fill="#000"/>
<circle cx="247.40" cy="460.10" r="2.5" fill="#000"/>
<circle cx="255.70" cy="458.90" r="2.5" fill="#000"/>
<line x1="397.40" y1="394.40" x2="397.40" y2="476.00" stroke="#555" stroke-width="1.3"/>
<line x1="395.40" y1="394.40" x2="397.10" y2="394.40" stroke="#333" stroke-width="1.1"/>
<line x1="395.40" y1="398.48" x2="397.10" y2="398.48" stroke="#333" stroke-width="1.1"/>
<line x1="395.40" y1="402.56" x2="397.10" y2="402.56" stroke="#333" stroke-width="1.1"/>
<line x1="395.40" y1="406.64" x2="397.10" y2="406.64" stroke="#333" stroke-width="1.1"/>
<line x1="395.40" y1="410.72" x2="397.10" y2="410.72" stroke="#333" stroke-width="1.1"/>
<line x1="395.40" y1="414.80" x2="397.10" y2="414.80" stroke="#333" stroke-width="1.1"/>
<line x1="395.40" y1="418.88" x2="397.10" y2="418.88" stroke="#333" stroke-width="1.1"/>
<line x1="395.40" y1="422.96" x2="397.10" y2="422.96" stroke="#333" stroke-width="1.1"/>
<line x1="395.40" y1="427.04" x2="397.10" y2="427.04" stroke="#333" stroke-width="1.1"/>
<line x1="395.40" y1="431.12" x2="397.10" y2="431.12" stroke="#333" stroke-width="1.1"/>
<line x1="395.40" y1="435.20" x2="397.10" y2="435.20" stroke="#333" stroke-width="1.1"/>
<line x1="395.40" y1="439.28" x2="397.10" y2="439.28" stroke="#333" stroke-width="1.1"/>
<line x1="395.40" y1="443.36" x2="397.10" y2="443.36" stroke="#333" stroke-width="1.1"/>
<line x1="395.40" y1="447.44" x2="397.10" y2="447.44" stroke="#333" stroke-width="1.1"/>
<line x1="395.40" y1="451.52" x2="397.10" y2="451.52" stroke="#333" stroke-width="1.1"/>
<line x1="395.40" y1="455.60" x2="397.10" y2="455.60" stroke="#333" stroke-width="1.1"/>
<line x1="395.40" y1="459.68" x2="397.10" y2="459.68" stroke="#333" stroke-width="1.1"/>
<line x1="395.40" y1="463.76" x2="397.10" y2="463.76" stroke="#333" stroke-width="1.1"/>
<line x1="395.40" y1="467.84" x2="397.10" y2="467.84" stroke="#333" stroke-width="1.1"/>
<line x1="395.40" y1="471.92" x2="397.10" y2="471.92" stroke="#333" stroke-width="1.1"/>
<line x1="395.40" y1="476.00" x2="397.10" y2="476.00" stroke="#333" stroke-width="1.1"/>
<line x1="393.90" y1="394.40" x2="397.10" y2="394.40" stroke="#333" stroke-width="1.3"/>
<line x1="393.90" y1="435.20" x2="397.10" y2="435.20" stroke="#333" stroke-width="1.3"/>
<line x1="393.90" y1="476.00" x2="397.10" y2="476.00" stroke="#333" stroke-width="1.3"/>
<line x1="397.40" y1="476.00" x2="522.00" y2="476.00" stroke="#555" stroke-width="1.3"/>
<line x1="397.40" y1="476.30" x2="397.40" y2="478.00" stroke="#333" stroke-width="1.1"/>
<line x1="403.63" y1="476.30" x2="403.63" y2="478.00" stroke="#333" stroke-width="1.1"/>
<line x1="409.86" y1="476.30" x2="409.86" y2="478.00" stroke="#333" stroke-width="1.1"/>
<line x1="416.09" y1="476.30" x2="416.09" y2="478.00" stroke="#333" stroke-width="1.1"/>
<line x1="422.32" y1="476.30" x2="422.32" y2="478.00" stroke="#333" stroke-width="1.1"/>
<line x1="428.55" y1="476.30" x2="428.55" y2="478.00" stroke="#333" stroke-width="1.1"/>
<line x1="434.78" y1="476.30" x2="434.78" y2="478.00" stroke="#333" stroke-width="1.1"/>
<line x1="441.01" y1="476.30" x2="441.01" y2="478.00" stroke="#333" stroke-width="1.1"/>
<line x1="447.24" y1="476.30" x2="447.24" y2="478.00" stroke="#333" stroke-width="1.1"/>
<line x1="453.47" y1="476.30" x2="453.47" y2="478.00" stroke="#333" stroke-width="1.1"/>
<line x1="459.70" y1="476.30" x2="459.70" y2="478.00" stroke="#333" stroke-width="1.1"/>
<line x1="465.93" y1="476.30" x2="465.93" y2="478.00" stroke="#333" stroke-width="1.1"/>
<line x1="472.16" y1="476.30" x2="472.16" y2="478.00" stroke="#333" stroke-width="1.1"/>
<line x1="478.39" y1="476.30" x2="478.39" y2="478.00" stroke="#333" stroke-width="1.1"/>
<line x1="484.62" y1="476.30" x2="484.62" y2="478.00" stroke="#333" stroke-width="1.1"/>
<line x1="490.85" y1="476.30" x2="490.85" y2="478.00" stroke="#333" stroke-width="1.1"/>
<line x1="497.08" y1="476.30" x2="497.08" y2="478.00" stroke="#333" stroke-width="1.1"/>
<line x1="503.31" y1="476.30" x2="503.31" y2="478.00" stroke="#333" stroke-width="1.1"/>
<line x1="509.54" y1="476.30" x2="509.54" y2="478.00" stroke="#333" stroke-width="1.1"/>
<line x1="515.77" y1="476.30" x2="515.77" y2="478.00" stroke="#333" stroke-width="1.1"/>
<line x1="522.00" y1="476.30" x2="522.00" y2="478.00" stroke="#333" stroke-width="1.1"/>
<line x1="397.40" y1="476.30" x2="397.40" y2="479.50" stroke="#333" stroke-width="1.3"/>
<line x1="459.70" y1="476.30" x2="459.70" y2="479.50" stroke="#333" stroke-width="1.3"/>
<line x1="522.00" y1="476.30" x2="522.00" y2="479.50" stroke="#333" stroke-width="1.3"/>
<text x="392.00" y="402.40" font-size="23" text-anchor="end" fill="#000"  stroke="#000" stroke-width="0.35">400</text>
<text x="392.00" y="443.50" font-size="23" text-anchor="end" fill="#000"  stroke="#000" stroke-width="0.35">200</text>
<text x="392.00" y="484.50" font-size="23" text-anchor="end" fill="#000"  stroke="#000" stroke-width="0.35">0</text>
<text x="459.30" y="501.50" font-size="23" text-anchor="middle" fill="#000"  stroke="#000" stroke-width="0.35">20</text>
<text x="522.00" y="501.50" font-size="23" text-anchor="middle" fill="#000"  stroke="#000" stroke-width="0.35">40</text>
<line x1="397.40" y1="442.30" x2="522.00" y2="404.50" stroke="#444" stroke-width="0.9"/>
<line x1="397.40" y1="429.00" x2="522.00" y2="421.80" stroke="#1f3cff" stroke-width="1.1" stroke-opacity="0.55"/>
<line x1="397.40" y1="434.00" x2="522.00" y2="417.00" stroke="#8c8cf5" stroke-width="1.1" stroke-opacity="0.55"/>
<line x1="397.40" y1="433.00" x2="522.00" y2="428.80" stroke="#ff8ad8" stroke-width="1.1" stroke-opacity="0.55"/>
<circle cx="397.40" cy="433.30" r="2.5" fill="#ff8ad8"/>
<circle cx="447.24" cy="432.20" r="2.5" fill="#ff8ad8"/>
<circle cx="509.54" cy="429.60" r="2.5" fill="#ff8ad8"/>
<circle cx="522.00" cy="429.60" r="2.5" fill="#ff8ad8"/>
<circle cx="397.40" cy="435.20" r="2.5" fill="#8c8cf5"/>
<circle cx="472.16" cy="425.00" r="2.5" fill="#8c8cf5"/>
<circle cx="484.62" cy="422.20" r="2.5" fill="#8c8cf5"/>
<circle cx="522.00" cy="416.10" r="2.5" fill="#8c8cf5"/>
<circle cx="397.40" cy="429.10" r="2.5" fill="#1f3cff"/>
<circle cx="422.32" cy="428.10" r="2.5" fill="#1f3cff"/>
<circle cx="447.24" cy="425.00" r="2.5" fill="#1f3cff"/>
<circle cx="484.62" cy="424.80" r="2.5" fill="#1f3cff"/>
<circle cx="509.54" cy="423.50" r="2.5" fill="#1f3cff"/>
<circle cx="522.00" cy="422.20" r="2.5" fill="#1f3cff"/>
<circle cx="397.40" cy="442.60" r="2.5" fill="#000"/>
<circle cx="422.32" cy="431.90" r="2.5" fill="#000"/>
<circle cx="447.24" cy="429.60" r="2.5" fill="#000"/>
<circle cx="459.70" cy="428.50" r="2.5" fill="#000"/>
<circle cx="472.16" cy="415.60" r="2.5" fill="#000"/>
<circle cx="497.08" cy="411.90" r="2.5" fill="#000"/>
<circle cx="509.54" cy="407.20" r="2.5" fill="#000"/>
<circle cx="522.00" cy="404.40" r="2.5" fill="#000"/>
</svg></body></html>
